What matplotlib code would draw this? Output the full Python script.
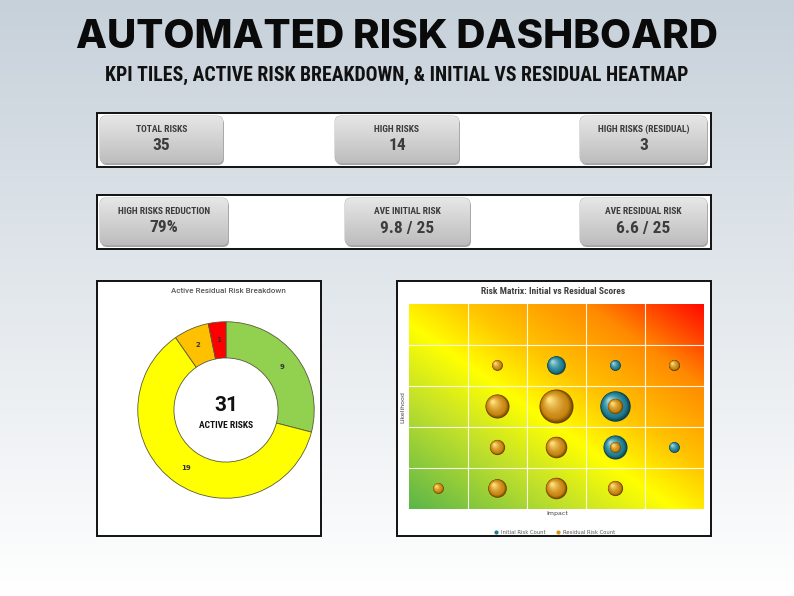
import numpy as np
import matplotlib
matplotlib.use('Agg')
import matplotlib.pyplot as plt
from matplotlib.patches import FancyBboxPatch, Rectangle
from matplotlib.colors import LinearSegmentedColormap, to_rgb
from matplotlib.lines import Line2D
from matplotlib import transforms
from matplotlib import font_manager as fm

W, H = 794, 596

title = "AUTOMATED RISK DASHBOARD"
subtitle = "KPI TILES, ACTIVE RISK BREAKDOWN, & INITIAL VS RESIDUAL HEATMAP"

kpi_row1_labels = ["TOTAL RISKS", "HIGH RISKS", "HIGH RISKS (RESIDUAL)"]
kpi_row1_values = ["35", "14", "3"]
kpi_row2_labels = ["HIGH RISKS REDUCTION", "AVE INITIAL RISK", "AVE RESIDUAL RISK"]
kpi_row2_values = ["79%", "9.8 / 25", "6.6 / 25"]

donut_title = "Active Residual Risk Breakdown"
donut_categories = ["Low", "Medium", "High", "Extreme"]
donut_values = [9, 19, 2, 1]
donut_colors = ["#92d050", "#ffff00", "#ffc000", "#ff0000"]

matrix_title = "Risk Matrix: Initial vs Residual Scores"
initial_impact = [3, 4, 5, 4, 4, 5]
initial_likelihood = [4, 4, 4, 3, 2, 2]
initial_count = [3, 1, 1, 8, 5, 1]

residual_impact = [1, 2, 3, 4, 2, 3, 4, 2, 3, 4, 2, 5]
residual_likelihood = [1, 1, 1, 1, 2, 2, 2, 3, 3, 3, 4, 4]
residual_count = [1, 3, 4, 2, 2, 4, 1, 5, 10, 2, 1, 1]

names = {f.name for f in fm.fontManager.ttflist}
cond = [n for n in ['Roboto Condensed', 'Liberation Sans Narrow'] if n in names]
NARROW = cond[:1] + ['Roboto', 'DejaVu Sans']
HAVE_COND = bool(cond)

fig = plt.figure(figsize=(W / 100, H / 100), dpi=100)

# background in pixel coordinates
bg = fig.add_axes([0, 0, 1, 1])
bg.set_xlim(0, W)
bg.set_ylim(H, 0)
bg.axis('off')
grad = np.linspace(0, 1, 256)[:, None]
top = np.array(to_rgb('#c7d1da'))
bot = np.array(to_rgb('#ffffff'))
img = top[None, None, :] * (1 - grad[:, :, None]) + bot[None, None, :] * grad[:, :, None]
bg.imshow(img, extent=[0, W, H, 0], aspect='auto', zorder=0)

bg.text(397, 37, title, ha='center', va='center', fontsize=29, fontweight='heavy',
        family=['Inter', 'DejaVu Sans'], color='#0a0a0a', zorder=5)
bg.text(397, 75, subtitle, ha='center', va='center', fontsize=14.2 if HAVE_COND else 11.3,
        fontweight='bold', family=NARROW, color='#111111', zorder=5)

# KPI rows
def kpi_row(y0, y1, tiles, labels, values):
    bg.add_patch(Rectangle((97, y0), 614, y1 - y0, facecolor='white', edgecolor='#111111',
                           lw=1.4, zorder=2))
    for (tx0, tx1), lab, val in zip(tiles, labels, values):
        ty0, ty1 = y0 + 3, y1 - 4
        sh = FancyBboxPatch((tx0 + 1, ty0 + 2), tx1 - tx0, ty1 - ty0,
                            boxstyle="round,pad=0,rounding_size=6",
                            facecolor='#6a6a6a', edgecolor='none', alpha=0.6, zorder=3)
        bg.add_patch(sh)
        p = FancyBboxPatch((tx0, ty0), tx1 - tx0, ty1 - ty0,
                           boxstyle="round,pad=0,rounding_size=6",
                           facecolor='#d6d6d6', edgecolor='#b0b0b0', lw=0.6, zorder=4)
        bg.add_patch(p)
        g = np.linspace(0, 1, 64)[:, None]
        c0 = np.array(to_rgb('#e6e6e6')); c1 = np.array(to_rgb('#bdbdbd'))
        gi = c0[None, None, :] * (1 - g[:, :, None]) + c1[None, None, :] * g[:, :, None]
        im = bg.imshow(gi, extent=[tx0, tx1, ty1, ty0], aspect='auto', zorder=4.5)
        im.set_clip_path(p)
        cx = (tx0 + tx1) / 2
        bg.text(cx, ty0 + 13, lab, ha='center', va='center',
                fontsize=6.8 if HAVE_COND else 6.3, fontweight='bold',
                family=NARROW, color='#3c3c3c', zorder=6)
        bg.text(cx, ty0 + 30, val, ha='center', va='center',
                fontsize=12.5 if HAVE_COND else 11.5, fontweight='bold',
                family=NARROW, color='#3c3c3c', zorder=6)

kpi_row(113, 167, [(100, 223), (335, 459), (580, 707)], kpi_row1_labels, kpi_row1_values)
kpi_row(195, 249, [(100, 228), (345, 470), (580, 707)], kpi_row2_labels, kpi_row2_values)

# panels
bg.add_patch(Rectangle((97, 281), 224, 255, facecolor='white', edgecolor='#111111', lw=1.4, zorder=2))
bg.add_patch(Rectangle((397, 281), 314, 255, facecolor='white', edgecolor='#111111', lw=1.4, zorder=2))

# donut
bg.text(228, 291, donut_title, ha='center', va='center', fontsize=5.8,
        family=['Roboto', 'DejaVu Sans'], color='#595959', zorder=6, fontweight='medium')
dax = fig.add_axes([(226 - 90) / W, 1 - (410 + 90) / H, 180 / W, 180 / H])
dax.set_zorder(3)
wedges, texts = dax.pie(donut_values, colors=donut_colors, startangle=90, counterclock=False,
                        radius=1, labels=[str(v) for v in donut_values], labeldistance=0.8,
                        wedgeprops=dict(width=0.41, edgecolor='#5a5a3a', linewidth=0.6),
                        textprops=dict(fontsize=5, color='#333333', ha='center', va='center',
                                       fontweight='bold'))
dax.set_xlim(-1.02, 1.02)
dax.set_ylim(-1.02, 1.02)
dax.axis('off')
dax.text(0, 0.05, str(sum(donut_values)), ha='center', va='center', fontsize=15,
         fontweight='bold', family=['Roboto', 'DejaVu Sans'], color='#111111')
dax.text(0, -0.18, "ACTIVE RISKS", ha='center', va='center', fontsize=6.8,
         fontweight='bold', family=NARROW, color='#111111')
handles = [Rectangle((0, 0), 1, 1, facecolor=c, edgecolor='#555555', lw=0.4) for c in donut_colors]
bg.legend(handles, donut_categories, loc='center', bbox_to_anchor=(231 / W, 1 - 529 / H),
          bbox_transform=fig.transFigure, ncol=4, frameon=False, fontsize=3.8,
          handlelength=0.8, handleheight=0.8, handletextpad=0.2, columnspacing=0.6,
          labelcolor='#777777')

# risk matrix
bg.text(553, 291, matrix_title, ha='center', va='center', fontsize=6.8 if HAVE_COND else 5.7,
        fontweight='bold', family=NARROW, color='#404040', zorder=6)
bg.text(557, 514, "Impact", ha='center', va='center', fontsize=4.5, color='#444444', zorder=6)
bg.text(403, 407, "Likelihood", ha='center', va='center', fontsize=4.5, color='#444444',
        rotation=90, zorder=6)

max_ = fig.add_axes([409 / W, 1 - 509 / H, 295 / W, 205 / H])
max_.set_zorder(3)
max_.set_xlim(0.5, 5.5)
max_.set_ylim(0.5, 5.5)
xx, yy = np.meshgrid(np.linspace(0, 1, 300), np.linspace(0, 1, 300))
val = (xx + yy) / 2
hcmap = LinearSegmentedColormap.from_list('heat', [
    (0.0, '#5cb54a'), (0.28, '#c4e22a'), (0.45, '#ffff00'), (0.6, '#ffc400'),
    (0.8, '#ff8a00'), (1.0, '#ff0a00')])
max_.imshow(val, extent=[0.5, 5.5, 0.5, 5.5], origin='lower', cmap=hcmap, vmin=0, vmax=1,
            aspect='auto', zorder=0)
for k in np.arange(1.5, 5.5, 1):
    max_.axvline(k, color='white', lw=0.8, alpha=0.9, zorder=1)
    max_.axhline(k, color='white', lw=0.8, alpha=0.9, zorder=1)
for s in max_.spines.values():
    s.set_visible(False)
max_.set_xticks([]); max_.set_yticks([])

SCALE = 60.0  # points^2 per risk

def mix(a, b, t):
    a = np.array(to_rgb(a)); b = np.array(to_rgb(b))
    return tuple(a * (1 - t) + b * t)

def sphere(x, y, count, rim, base, hi, z):
    D = np.sqrt(SCALE * count)  # diameter in points
    n = 18
    for k in range(n):
        t = k / (n - 1)
        d = D * (1 - 0.88 * t)
        off = 0.2 * D * t
        if t < 0.2:
            col = mix(rim, base, t / 0.2)
        else:
            col = mix(base, hi, ((t - 0.2) / 0.8) ** 1.4)
        tr = transforms.offset_copy(max_.transData, fig=fig, x=-off, y=off, units='points')
        max_.scatter([x], [y], s=d ** 2, color=[col], edgecolors='none', transform=tr,
                     zorder=z + k * 0.001)

for x, y, c in zip(initial_impact, initial_likelihood, initial_count):
    sphere(x, y, c, '#0b3d4a', '#1e7d91', '#9fd6dc', 2)
for x, y, c in zip(residual_impact, residual_likelihood, residual_count):
    sphere(x, y, c, '#6b4200', '#c98512', '#ffe07a', 3)

leg_h = [Line2D([], [], marker='o', ls='none', markersize=3, markerfacecolor='#1e7d91',
                markeredgecolor='none'),
         Line2D([], [], marker='o', ls='none', markersize=3, markerfacecolor='#d9921a',
                markeredgecolor='none')]
bg.legend(leg_h, ["Initial Risk Count", "Residual Risk Count"], loc='center',
          bbox_to_anchor=(553 / W, 1 - 532 / H), bbox_transform=fig.transFigure, ncol=2,
          frameon=False, fontsize=3.8, handletextpad=0.1, columnspacing=1.2,
          labelcolor='#555555')

fig.savefig('out.png', dpi=100)
